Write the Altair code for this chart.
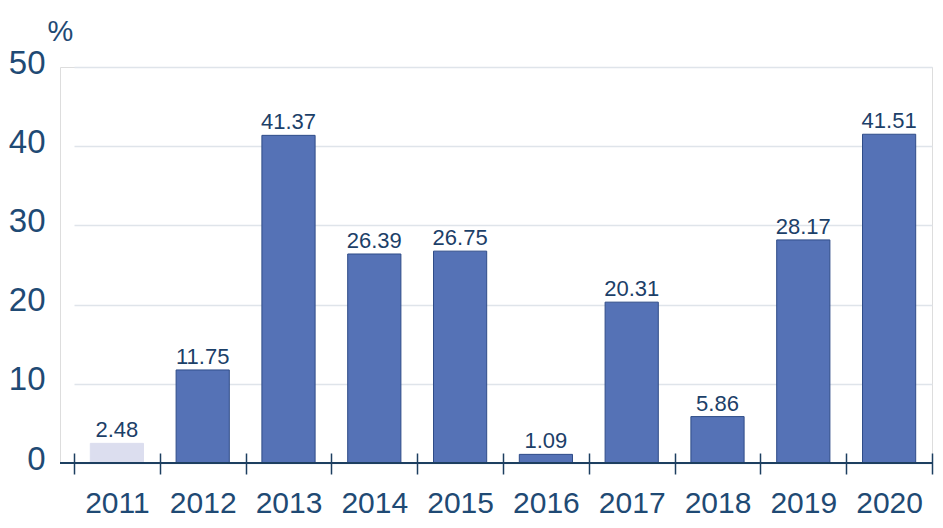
import altair as alt
import pandas as pd

years = ["2011", "2012", "2013", "2014", "2015", "2016", "2017", "2018", "2019", "2020"]
values = [2.48, 11.75, 41.37, 26.39, 26.75, 1.09, 20.31, 5.86, 28.17, 41.51]
highlight = ["light", "dark", "dark", "dark", "dark", "dark", "dark", "dark", "dark", "dark"]
y_ticks = [0, 10, 20, 30, 40, 50]

df = pd.DataFrame({"year": years, "value": values, "kind": highlight,
                   "label": [f"{v:.2f}" for v in values]})

FONT = "Liberation Sans, Arial, sans-serif"
TXT = "#1f4a74"
AX = "#1d3f60"

xscale = alt.Scale(domain=years, range=[14, 872], paddingInner=0, paddingOuter=0)
yscale = alt.Scale(domain=[0, 50], nice=False)

base = alt.Chart(df)

bars = base.mark_bar(strokeWidth=1, width=alt.RelativeBandSize(0.62)).encode(
    x=alt.X("year:N", scale=xscale, sort=years,
            axis=alt.Axis(title=None, tickBand="extent", tickSize=21, offset=-10,
                          domain=False, tickColor=AX, tickWidth=1.5,
                          labelFont=FONT, labelFontSize=30, labelColor=TXT,
                          labelPadding=14, labelAngle=0)),
    y=alt.Y("value:Q", scale=yscale,
            axis=alt.Axis(title="%", titleAngle=0, titleX=0, titleY=-27, titleAlign="center",
                          titleBaseline="alphabetic", titleFont=FONT, titleFontSize=29,
                          titleFontWeight="normal", titleColor=TXT,
                          values=y_ticks, domain=False, ticks=False,
                          labelFont=FONT, labelFontSize=33, labelColor=TXT, labelPadding=15,
                          labelOffset=-4,
                          gridColor="#dfe4ea", gridWidth=1.5)),
    color=alt.Color("kind:N", scale=alt.Scale(domain=["light", "dark"], range=["#dcdeef", "#5572b6"]), legend=None),
    stroke=alt.Stroke("kind:N", scale=alt.Scale(domain=["light", "dark"], range=["#dcdeef", "#2f4c88"]), legend=None),
)

labels = base.mark_text(font=FONT, fontSize=22, color="#1c4068", baseline="alphabetic", dy=-6).encode(
    x=alt.X("year:N", scale=xscale, sort=years),
    y=alt.Y("value:Q", scale=yscale),
    text="label:N",
)

baseline = alt.Chart(pd.DataFrame({"z": [0]})).mark_rule(color=AX, strokeWidth=2).encode(
    y=alt.Y("z:Q", scale=yscale), x=alt.value(0), x2=alt.value(872)
)

chart = alt.layer(bars, labels, baseline).properties(
    width=872, height=396,
    padding={"left": 60, "top": 67, "right": 11, "bottom": 65},
    autosize=alt.AutoSizeParams(type="none"),
).configure_view(stroke=None).configure(background="white")

chart.save("out.html", embed_options={"renderer": "svg", "actions": False})
